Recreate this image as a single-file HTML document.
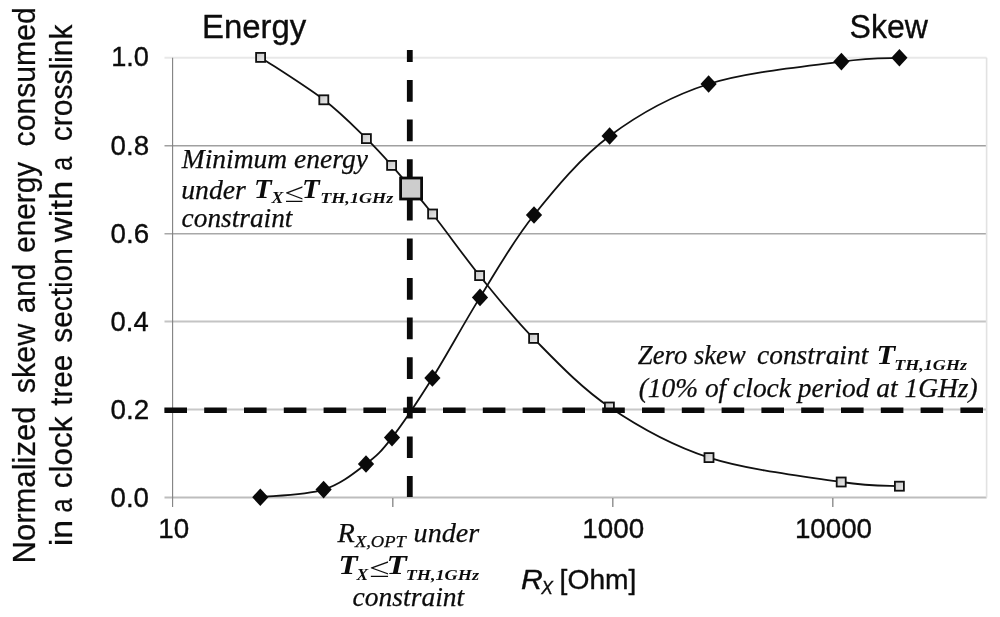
<!DOCTYPE html>
<html lang="en"><head><meta charset="utf-8"><title>Normalized skew and energy vs RX</title>
<style>
html,body{margin:0;padding:0;background:#fff;}
body{width:1000px;height:617px;overflow:hidden;}
svg{display:block;}
text{fill:#0c0c0c;}
.si{stroke:#0c0c0c;stroke-width:0.25px;}

.si{font-family:"Liberation Serif",serif;font-style:italic}
.sbi{font-family:"Liberation Serif",serif;font-style:italic;font-weight:bold}
.s{font-family:"Liberation Serif",serif}
.a{font-family:"Liberation Sans",sans-serif}
.ai{font-family:"Liberation Sans",sans-serif;font-style:italic}
</style></head><body>
<svg width="1000" height="617" viewBox="0 0 1000 617">
<defs><linearGradient id="mg" x1="0" y1="0" x2="1" y2="1"><stop offset="0" stop-color="#c4c4c4"/><stop offset="1" stop-color="#ececec"/></linearGradient></defs>
<rect width="1000" height="617" fill="#fff"/>

<line x1="164.5" y1="57.7" x2="986.6" y2="57.7" stroke="#e8e8e8" stroke-width="2"/>
<line x1="164.5" y1="145.7" x2="986.6" y2="145.7" stroke="#a0a0a0" stroke-width="1.6"/>
<line x1="164.5" y1="233.7" x2="986.6" y2="233.7" stroke="#a8a8a8" stroke-width="1.6"/>
<line x1="164.5" y1="321.6" x2="986.6" y2="321.6" stroke="#c4c4c4" stroke-width="2"/>
<line x1="164.5" y1="409.6" x2="986.6" y2="409.6" stroke="#c8c8c8" stroke-width="2"/>
<line x1="164.5" y1="497.6" x2="986.6" y2="497.6" stroke="#bdbdbd" stroke-width="2"/>
<line x1="986.6" y1="57.7" x2="986.6" y2="497.6" stroke="#e2e2e2" stroke-width="1.6"/>
<line x1="172.6" y1="57.7" x2="172.6" y2="507" stroke="#808080" stroke-width="1.1"/>
<line x1="392.8" y1="498" x2="392.8" y2="507" stroke="#8c8c8c" stroke-width="1.4"/>
<line x1="612.8" y1="498" x2="612.8" y2="507" stroke="#8c8c8c" stroke-width="1.4"/>
<line x1="832.8" y1="498" x2="832.8" y2="507" stroke="#8c8c8c" stroke-width="1.4"/>
<path d="M260.6,57.4 C271.1,64.5 306.2,86.3 323.8,99.8 C341.4,113.3 355.1,127.7 366.4,138.6 C377.7,149.5 380.6,152.8 391.6,165.4 C402.6,178.0 417.9,195.6 432.6,214.0 C447.3,232.4 462.8,254.9 479.6,275.6 C496.4,296.3 512.0,316.5 533.6,338.4 C555.2,360.3 580.2,387.1 609.4,407.0 C638.6,426.9 670.4,445.1 709.0,457.6 C747.6,470.1 809.5,477.2 841.2,482.0 C872.9,486.8 889.7,485.5 899.4,486.2" fill="none" stroke="#111" stroke-width="1.8"/>
<path d="M260.3,497.2 C270.9,495.9 306.0,495.1 323.6,489.6 C341.2,484.1 354.6,472.7 366.0,464.0 C377.4,455.3 380.9,451.9 392.0,437.6 C403.1,423.3 417.7,401.4 432.4,378.0 C447.1,354.6 463.1,324.6 480.0,297.4 C496.9,270.2 512.4,241.9 534.0,215.0 C555.6,188.1 580.5,157.8 609.6,136.0 C638.7,114.2 670.0,96.4 708.6,84.0 C747.2,71.6 809.6,66.0 841.4,61.6 C873.2,57.2 889.7,58.4 899.4,57.8" fill="none" stroke="#111" stroke-width="1.8"/>
<rect x="256.1" y="52.9" width="9" height="9" fill="url(#mg)" stroke="#111" stroke-width="1.8"/>
<rect x="319.3" y="95.3" width="9" height="9" fill="url(#mg)" stroke="#111" stroke-width="1.8"/>
<rect x="361.9" y="134.1" width="9" height="9" fill="url(#mg)" stroke="#111" stroke-width="1.8"/>
<rect x="387.1" y="160.9" width="9" height="9" fill="url(#mg)" stroke="#111" stroke-width="1.8"/>
<rect x="428.1" y="209.5" width="9" height="9" fill="url(#mg)" stroke="#111" stroke-width="1.8"/>
<rect x="475.1" y="271.1" width="9" height="9" fill="url(#mg)" stroke="#111" stroke-width="1.8"/>
<rect x="529.1" y="333.9" width="9" height="9" fill="url(#mg)" stroke="#111" stroke-width="1.8"/>
<rect x="604.9" y="402.5" width="9" height="9" fill="url(#mg)" stroke="#111" stroke-width="1.8"/>
<rect x="704.5" y="453.1" width="9" height="9" fill="url(#mg)" stroke="#111" stroke-width="1.8"/>
<rect x="836.7" y="477.5" width="9" height="9" fill="url(#mg)" stroke="#111" stroke-width="1.8"/>
<rect x="894.9" y="481.7" width="9" height="9" fill="url(#mg)" stroke="#111" stroke-width="1.8"/>
<path d="M260.3,488.4 l8.1,8.8 l-8.1,8.8 l-8.1,-8.8 z" fill="#0a0a0a"/>
<path d="M323.6,480.8 l8.1,8.8 l-8.1,8.8 l-8.1,-8.8 z" fill="#0a0a0a"/>
<path d="M366.0,455.2 l8.1,8.8 l-8.1,8.8 l-8.1,-8.8 z" fill="#0a0a0a"/>
<path d="M392.0,428.8 l8.1,8.8 l-8.1,8.8 l-8.1,-8.8 z" fill="#0a0a0a"/>
<path d="M432.4,369.2 l8.1,8.8 l-8.1,8.8 l-8.1,-8.8 z" fill="#0a0a0a"/>
<path d="M480.0,288.6 l8.1,8.8 l-8.1,8.8 l-8.1,-8.8 z" fill="#0a0a0a"/>
<path d="M534.0,206.2 l8.1,8.8 l-8.1,8.8 l-8.1,-8.8 z" fill="#0a0a0a"/>
<path d="M609.6,127.2 l8.1,8.8 l-8.1,8.8 l-8.1,-8.8 z" fill="#0a0a0a"/>
<path d="M708.6,75.2 l8.1,8.8 l-8.1,8.8 l-8.1,-8.8 z" fill="#0a0a0a"/>
<path d="M841.4,52.8 l8.1,8.8 l-8.1,8.8 l-8.1,-8.8 z" fill="#0a0a0a"/>
<path d="M899.4,49.0 l8.1,8.8 l-8.1,8.8 l-8.1,-8.8 z" fill="#0a0a0a"/>
<line x1="164.4" y1="410.2" x2="983" y2="410.2" stroke="#0a0a0a" stroke-width="5.6" stroke-dasharray="22.6 17.2"/>
<line x1="409.8" y1="50" x2="409.8" y2="497" stroke="#0a0a0a" stroke-width="5.8" stroke-dasharray="21.7 17.9" stroke-dashoffset="9.6"/>
<rect x="400.6" y="178" width="21" height="21" fill="#cdcdcd" stroke="#0a0a0a" stroke-width="2.8"/>
<text class="a" x="111.16" y="65.90" font-size="27.00" textLength="37.76" lengthAdjust="spacingAndGlyphs" stroke="#0c0c0c" stroke-width="0.35">1.0</text>
<text class="a" x="110.56" y="154.68" font-size="27.00" textLength="38.52" lengthAdjust="spacingAndGlyphs" stroke="#0c0c0c" stroke-width="0.35">0.8</text>
<text class="a" x="110.56" y="242.66" font-size="27.00" textLength="38.52" lengthAdjust="spacingAndGlyphs" stroke="#0c0c0c" stroke-width="0.35">0.6</text>
<text class="a" x="110.57" y="330.64" font-size="27.00" textLength="38.09" lengthAdjust="spacingAndGlyphs" stroke="#0c0c0c" stroke-width="0.35">0.4</text>
<text class="a" x="110.56" y="418.62" font-size="27.00" textLength="38.67" lengthAdjust="spacingAndGlyphs" stroke="#0c0c0c" stroke-width="0.35">0.2</text>
<text class="a" x="110.56" y="506.60" font-size="27.00" textLength="38.38" lengthAdjust="spacingAndGlyphs" stroke="#0c0c0c" stroke-width="0.35">0.0</text>
<text class="a" x="158.22" y="538.00" font-size="26.80" textLength="30.89" lengthAdjust="spacingAndGlyphs" stroke="#0c0c0c" stroke-width="0.35">10</text>
<text class="a" x="582.32" y="538.00" font-size="26.80" textLength="61.79" lengthAdjust="spacingAndGlyphs" stroke="#0c0c0c" stroke-width="0.35">1000</text>
<text class="a" x="794.92" y="538.00" font-size="26.80" textLength="77.14" lengthAdjust="spacingAndGlyphs" stroke="#0c0c0c" stroke-width="0.35">10000</text>
<text class="a" x="201.98" y="38.10" font-size="33.00" textLength="104.33" lengthAdjust="spacingAndGlyphs" stroke="#0c0c0c" stroke-width="0.35">Energy</text>
<text class="a" x="849.56" y="38.30" font-size="33.00" textLength="78.37" lengthAdjust="spacingAndGlyphs" stroke="#0c0c0c" stroke-width="0.35">Skew</text>
<text class="a" transform="translate(35.00,561.00) rotate(-90)" x="-2.56" y="0" font-size="32.00" textLength="157.07" lengthAdjust="spacingAndGlyphs" stroke="#0c0c0c" stroke-width="0.25">Normalized</text>
<text class="a" transform="translate(35.00,392.40) rotate(-90)" x="-0.84" y="0" font-size="32.00" textLength="69.49" lengthAdjust="spacingAndGlyphs" stroke="#0c0c0c" stroke-width="0.25">skew</text>
<text class="a" transform="translate(35.00,312.00) rotate(-90)" x="-1.26" y="0" font-size="32.00" textLength="49.33" lengthAdjust="spacingAndGlyphs" stroke="#0c0c0c" stroke-width="0.25">and</text>
<text class="a" transform="translate(35.00,251.50) rotate(-90)" x="-1.26" y="0" font-size="32.00" textLength="90.84" lengthAdjust="spacingAndGlyphs" stroke="#0c0c0c" stroke-width="0.25">energy</text>
<text class="a" transform="translate(35.00,145.20) rotate(-90)" x="-1.28" y="0" font-size="32.00" textLength="139.31" lengthAdjust="spacingAndGlyphs" stroke="#0c0c0c" stroke-width="0.25">consumed</text>
<text class="a" transform="translate(72.30,544.00) rotate(-90)" x="-2.29" y="0" font-size="32.00" textLength="26.45" lengthAdjust="spacingAndGlyphs" stroke="#0c0c0c" stroke-width="0.25">in</text>
<text class="a" transform="translate(72.30,511.50) rotate(-90)" x="-1.07" y="0" font-size="32.00" textLength="14.04" lengthAdjust="spacingAndGlyphs" stroke="#0c0c0c" stroke-width="0.25">a</text>
<text class="a" transform="translate(72.30,487.00) rotate(-90)" x="-1.34" y="0" font-size="32.00" textLength="71.87" lengthAdjust="spacingAndGlyphs" stroke="#0c0c0c" stroke-width="0.25">clock</text>
<text class="a" transform="translate(72.30,405.40) rotate(-90)" x="-0.44" y="0" font-size="32.00" textLength="51.02" lengthAdjust="spacingAndGlyphs" stroke="#0c0c0c" stroke-width="0.25">tree</text>
<text class="a" transform="translate(72.30,341.90) rotate(-90)" x="-0.82" y="0" font-size="32.00" textLength="94.41" lengthAdjust="spacingAndGlyphs" stroke="#0c0c0c" stroke-width="0.25">section</text>
<text class="a" transform="translate(72.30,242.40) rotate(-90)" x="0.09" y="0" font-size="32.00" textLength="61.71" lengthAdjust="spacingAndGlyphs" stroke="#0c0c0c" stroke-width="0.25">with</text>
<text class="a" transform="translate(72.30,169.80) rotate(-90)" x="-1.06" y="0" font-size="32.00" textLength="13.93" lengthAdjust="spacingAndGlyphs" stroke="#0c0c0c" stroke-width="0.25">a</text>
<text class="a" transform="translate(72.30,140.00) rotate(-90)" x="-1.27" y="0" font-size="32.00" textLength="116.67" lengthAdjust="spacingAndGlyphs" stroke="#0c0c0c" stroke-width="0.25">crosslink</text>
<text class="ai" x="521.09" y="588.60" font-size="27.00" textLength="21.80" lengthAdjust="spacingAndGlyphs" stroke="#0c0c0c" stroke-width="0.35">R</text>
<text class="ai" x="541.31" y="594.20" font-size="18.50" textLength="11.66" lengthAdjust="spacingAndGlyphs" stroke="#0c0c0c" stroke-width="0.35">X</text>
<text class="a" x="559.63" y="588.60" font-size="27.50" textLength="76.75" lengthAdjust="spacingAndGlyphs" stroke="#0c0c0c" stroke-width="0.35">[Ohm]</text>
<text class="si" x="637.87" y="364.30" font-size="27.60" textLength="107.89" lengthAdjust="spacingAndGlyphs">Zero skew</text>
<text class="si" x="756.98" y="364.30" font-size="27.60" textLength="111.40" lengthAdjust="spacingAndGlyphs">constraint</text>
<text class="sbi" x="876.48" y="364.30" font-size="27.60" textLength="18.67" lengthAdjust="spacingAndGlyphs">T</text>
<text class="sbi" x="894.19" y="369.50" font-size="14.50" textLength="72.86" lengthAdjust="spacingAndGlyphs">TH,1GHz</text>
<text class="si" x="638.64" y="397.40" font-size="27.60" textLength="339.01" lengthAdjust="spacingAndGlyphs">(10% of clock period at 1GHz)</text>
<text class="si" x="181.74" y="168.00" font-size="27.40" textLength="186.24" lengthAdjust="spacingAndGlyphs">Minimum energy</text>
<text class="si" x="181.21" y="198.60" font-size="27.40" textLength="64.66" lengthAdjust="spacingAndGlyphs">under</text>
<text class="sbi" x="253.91" y="198.40" font-size="27.40" textLength="17.61" lengthAdjust="spacingAndGlyphs">T</text>
<text class="sbi" x="271.45" y="203.40" font-size="17.00" textLength="11.89" lengthAdjust="spacingAndGlyphs">X</text>
<text class="s" x="284.59" y="201.60" font-size="27.40" textLength="19.37" lengthAdjust="spacingAndGlyphs">≤</text>
<text class="sbi" x="301.91" y="198.40" font-size="27.40" textLength="17.61" lengthAdjust="spacingAndGlyphs">T</text>
<text class="sbi" x="320.18" y="203.40" font-size="14.50" textLength="73.07" lengthAdjust="spacingAndGlyphs">TH,1GHz</text>
<text class="si" x="181.58" y="226.80" font-size="27.40" textLength="110.89" lengthAdjust="spacingAndGlyphs">constraint</text>
<text class="si" x="337.44" y="541.60" font-size="27.40" textLength="17.31" lengthAdjust="spacingAndGlyphs">R</text>
<text class="si" x="354.90" y="547.30" font-size="17.00" textLength="50.99" lengthAdjust="spacingAndGlyphs">X,OPT</text>
<text class="si" x="413.59" y="541.60" font-size="27.40" textLength="65.68" lengthAdjust="spacingAndGlyphs">under</text>
<text class="sbi" x="338.43" y="574.20" font-size="27.40" textLength="19.10" lengthAdjust="spacingAndGlyphs">T</text>
<text class="sbi" x="356.44" y="580.20" font-size="17.00" textLength="11.70" lengthAdjust="spacingAndGlyphs">X</text>
<text class="s" x="369.22" y="577.40" font-size="27.40" textLength="20.31" lengthAdjust="spacingAndGlyphs">≤</text>
<text class="sbi" x="386.59" y="574.20" font-size="27.40" textLength="20.27" lengthAdjust="spacingAndGlyphs">T</text>
<text class="sbi" x="405.68" y="580.40" font-size="15.00" textLength="73.37" lengthAdjust="spacingAndGlyphs">TH,1GHz</text>
<text class="si" x="352.57" y="606.40" font-size="27.40" textLength="111.70" lengthAdjust="spacingAndGlyphs">constraint</text>
</svg></body></html>
